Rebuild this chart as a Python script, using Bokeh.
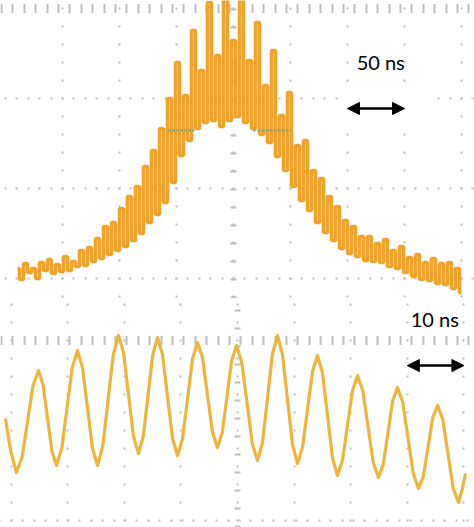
from bokeh.plotting import figure
from bokeh.models import FixedTicker, Grid, Arrow, NormalHead, Label, BoxAnnotation, Range1d
from bokeh.layouts import column
from bokeh.embed import file_html
from bokeh.resources import INLINE

# ---------------- data ----------------
# Top trace: 50 ns/div, uniformly sampled record (peak/trough alternating), values in divisions
TOP_T0_NS = -189.5
TOP_DT_NS = 3.509
top_values = [
    -2.889, -3.011, -2.833, -2.933, -2.889, -3.000, -2.822, -2.911,
    -2.789, -2.944, -2.844, -2.922, -2.756, -2.911, -2.811, -2.867,
    -2.689, -2.856, -2.656, -2.811, -2.556, -2.778, -2.422, -2.733,
    -2.378, -2.689, -2.222, -2.644, -2.089, -2.578, -1.978, -2.500,
    -1.756, -2.378, -1.578, -2.289, -1.333, -2.156, -1.000, -1.933,
    -0.600, -1.633, -0.967, -1.467, -0.244, -1.333, -0.689, -1.267,
    0.067, -1.244, -0.522, -1.311, 0.144, -1.244, -0.356, -1.200,
    0.089, -1.267, -0.578, -1.333, -0.156, -1.400, -0.856, -1.489,
    -0.467, -1.644, -1.189, -1.800, -0.933, -1.978, -1.522, -2.133,
    -1.467, -2.244, -1.800, -2.378, -1.889, -2.489, -2.089, -2.578,
    -2.200, -2.667, -2.356, -2.722, -2.422, -2.756, -2.533, -2.800,
    -2.533, -2.811, -2.611, -2.822, -2.567, -2.867, -2.689, -2.889,
    -2.644, -2.933, -2.767, -2.978, -2.733, -3.011, -2.822, -3.022,
    -2.778, -3.056, -2.833, -3.067, -2.822, -3.111, -2.889, -3.156,
]
top_t = [TOP_T0_NS + TOP_DT_NS * i for i in range(len(top_values))]

# level-marker samples (teal) on the top trace
marker_t0 = [-57.0, 17.5]
marker_t1 = [-33.0, 50.0]
marker_level = [-1.356, -1.356]

# Bottom trace: 10 ns/div
bottom_t = [
    -41.0, -40.1, -39.05, -38.07, -37.10, -36.13, -35.16,
    -34.36, -33.57, -32.77, -31.98, -31.05, -30.12, -29.20, -28.27,
    -27.39, -26.50, -25.62, -24.73, -23.81, -22.88, -21.95, -21.02,
    -20.14, -19.26, -18.37, -17.49, -16.65, -15.81, -14.97, -14.13,
    -13.25, -12.37, -11.48, -10.60, -9.72, -8.83, -7.95, -7.07,
    -6.18, -5.30, -4.42, -3.53, -2.69, -1.86, -1.02, -0.18,
    0.75, 1.68, 2.61, 3.53, 4.42, 5.30, 6.18, 7.07,
    7.95, 8.83, 9.72, 10.60, 11.48, 12.37, 13.25, 14.13,
    15.02, 15.90, 16.78, 17.67, 18.55, 19.43, 20.32, 21.20,
    22.13, 23.06, 23.98, 24.91, 25.75, 26.59, 27.43, 28.27,
    29.20, 30.12, 31.05, 31.98, 32.82, 33.66, 34.50, 35.34,
    36.26, 37.19, 38.12, 39.05, 39.66, 40.28,
]
bottom_v = [
    -0.867, -1.222, -1.467, -1.300, -0.900, -0.500, -0.333,
    -0.489, -0.861, -1.233, -1.389, -1.200, -0.750, -0.300, -0.111,
    -0.300, -0.750, -1.200, -1.389, -1.178, -0.667, -0.156, 0.056,
    -0.133, -0.600, -1.067, -1.256, -1.067, -0.611, -0.156, 0.033,
    -0.156, -0.622, -1.089, -1.278, -1.094, -0.650, -0.206, -0.022,
    -0.189, -0.606, -1.022, -1.189, -1.022, -0.622, -0.222, -0.056,
    -0.244, -0.694, -1.144, -1.333, -1.133, -0.639, -0.144, 0.056,
    -0.156, -0.656, -1.156, -1.367, -1.189, -0.767, -0.344, -0.167,
    -0.361, -0.833, -1.306, -1.500, -1.333, -0.944, -0.556, -0.389,
    -0.556, -0.956, -1.356, -1.522, -1.378, -1.022, -0.667, -0.522,
    -0.689, -1.083, -1.478, -1.644, -1.511, -1.183, -0.856, -0.722,
    -0.878, -1.261, -1.644, -1.800, -1.667, -1.478,
]

top_xticks = [-150, -100, -50, 0, 50, 100, 150, 200]
top_yticks = [-1, -2, -3]
bottom_xticks = [-40, -30, -20, -10, 0, 10, 20, 30, 40]
bottom_yticks = [-2]
top_scale_ns = 50
bottom_scale_ns = 10

GRID = "#bdbdbd"
TOP_COLOR = "#EFA32A"
BOT_COLOR = "#F0B43C"
W = 474
HDOTS = "2 9 2 10 2 9 2 10 2 9"


def make_fig(h, xr, yr):
    p = figure(width=W, height=h, x_range=Range1d(*xr), y_range=Range1d(*yr),
               x_axis_type=None, y_axis_type=None, toolbar_location=None,
               output_backend="svg", min_border=0)
    p.outline_line_color = None
    p.background_fill_color = "white"
    p.border_fill_color = "white"
    return p


def add_grids(p, xticks, yticks, hbounds, vbounds, voff, hoff):
    # dotted vertical division lines
    p.add_layout(Grid(dimension=0, ticker=FixedTicker(ticks=xticks), grid_line_color=GRID,
                      grid_line_width=2, grid_line_dash="2 16", grid_line_dash_offset=voff))
    # dotted horizontal division lines
    p.add_layout(Grid(dimension=1, ticker=FixedTicker(ticks=yticks), grid_line_color=GRID,
                      grid_line_width=2, grid_line_dash=HDOTS, grid_line_dash_offset=hoff))
    # center horizontal axis with minor tick marks
    p.add_layout(Grid(dimension=1, ticker=FixedTicker(ticks=[0]), grid_line_color=GRID,
                      grid_line_width=9, grid_line_dash=HDOTS, bounds=hbounds))
    # center vertical axis with minor tick marks
    p.add_layout(Grid(dimension=0, ticker=FixedTicker(ticks=[0]), grid_line_color=GRID,
                      grid_line_width=6, grid_line_dash="2 16", bounds=vbounds))


# ---------------- top panel ----------------
top = make_fig(298, (-204.4, 211.4), (-3.222, 0.089))
add_grids(top, top_xticks, top_yticks, (-98.5, 152), (-3.01, 0), 17, 53)
top.step(top_t, top_values, mode="center", line_color=TOP_COLOR, line_width=3.6)
top.segment(x0=marker_t0, y0=marker_level, x1=marker_t1, y1=marker_level,
            line_color="#5fa3a0", line_width=2, line_dash="2 2")
top.add_layout(BoxAnnotation(left=94, right=177, top=-0.89, bottom=-1.3,
                             fill_color="white", fill_alpha=1, line_alpha=0))
top.add_layout(Arrow(start=NormalHead(size=12, fill_color="black", line_color="black"),
                     end=NormalHead(size=12, fill_color="black", line_color="black"),
                     x_start=2 * top_scale_ns, x_end=3 * top_scale_ns,
                     y_start=-1.111, y_end=-1.111, line_width=2.5, line_color="black"))
top.add_layout(Label(x=108, y=-0.589, text=f"{top_scale_ns} ns", text_font="Lato",
                     text_font_size="20px", text_baseline="middle", text_color="black"))

# ---------------- bottom panel ----------------
bot = make_fig(229, (-41.87, 41.87), (-2.078, 0.467))
add_grids(bot, bottom_xticks, bottom_yticks, (-40.5, 26.5), (-2.0, 0), 12, 47)
bot.line(bottom_t, bottom_v, line_color=BOT_COLOR, line_width=3.2, line_join="round")
bot.add_layout(Arrow(start=NormalHead(size=12, fill_color="black", line_color="black"),
                     end=NormalHead(size=12, fill_color="black", line_color="black"),
                     x_start=3 * bottom_scale_ns, x_end=4 * bottom_scale_ns,
                     y_start=-0.278, y_end=-0.278, line_width=2.5, line_color="black"))
bot.add_layout(Label(x=30.6, y=0.244, text=f"{bottom_scale_ns} ns", text_font="Lato",
                     text_font_size="20px", text_baseline="middle", text_color="black"))

layout = column(top, bot, spacing=0)
open("out.html", "w").write(file_html(layout, INLINE))
